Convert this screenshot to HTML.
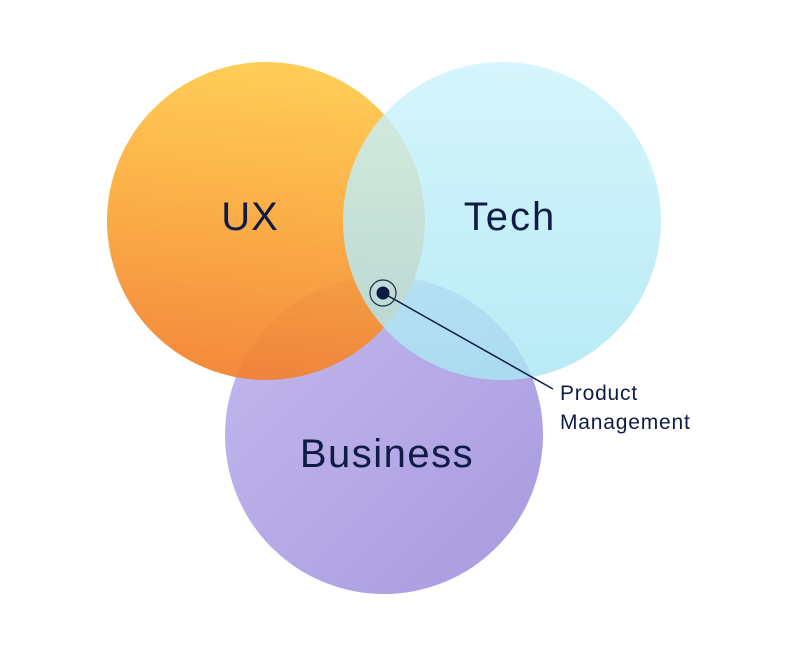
<!DOCTYPE html>
<html><head><style>body{margin:0;background:#fff}svg{display:block}</style></head><body>
<svg width="804" height="653" viewBox="0 0 804 653" xmlns="http://www.w3.org/2000/svg">
<defs>
<linearGradient id="b" x1="0" y1="0" x2="1" y2="1"><stop offset="0" stop-color="#c4b9ef"/><stop offset="1" stop-color="#a89ade"/></linearGradient>
<linearGradient id="u" x1="0.3" y1="0" x2="0.2" y2="1"><stop offset="0" stop-color="#ffc94a"/><stop offset="0.45" stop-color="#fba93a"/><stop offset="1" stop-color="#f27e2e"/></linearGradient>
<linearGradient id="t" x1="0" y1="0" x2="0" y2="1"><stop offset="0" stop-color="#cdf3fb"/><stop offset="1" stop-color="#a9e6f3"/></linearGradient>
</defs>
<circle cx="384" cy="435" r="159" fill="url(#b)"/>
<circle cx="266" cy="221" r="159" fill="url(#u)" opacity="0.93"/>
<circle cx="502" cy="221" r="159" fill="url(#t)" opacity="0.82"/>
<circle cx="383" cy="293" r="13" fill="none" stroke="#1a2a50" stroke-width="1.2"/>
<circle cx="383" cy="293" r="6.5" fill="#0c1c45"/>
<line x1="383" y1="293" x2="553" y2="389" stroke="#0c1c45" stroke-width="1.5"/>
<g font-family="Liberation Sans, sans-serif" fill="#0f1c45">
<text x="250" y="230" font-size="40" text-anchor="middle" letter-spacing="1">UX</text>
<text x="510" y="230" font-size="40" text-anchor="middle" letter-spacing="2">Tech</text>
<text x="387" y="467" font-size="40" text-anchor="middle" letter-spacing="1.5">Business</text>
<text x="560" y="400" font-size="21" letter-spacing="0.8">Product</text>
<text x="560" y="429" font-size="21" letter-spacing="0.8">Management</text>
</g>
</svg>
</body></html>
